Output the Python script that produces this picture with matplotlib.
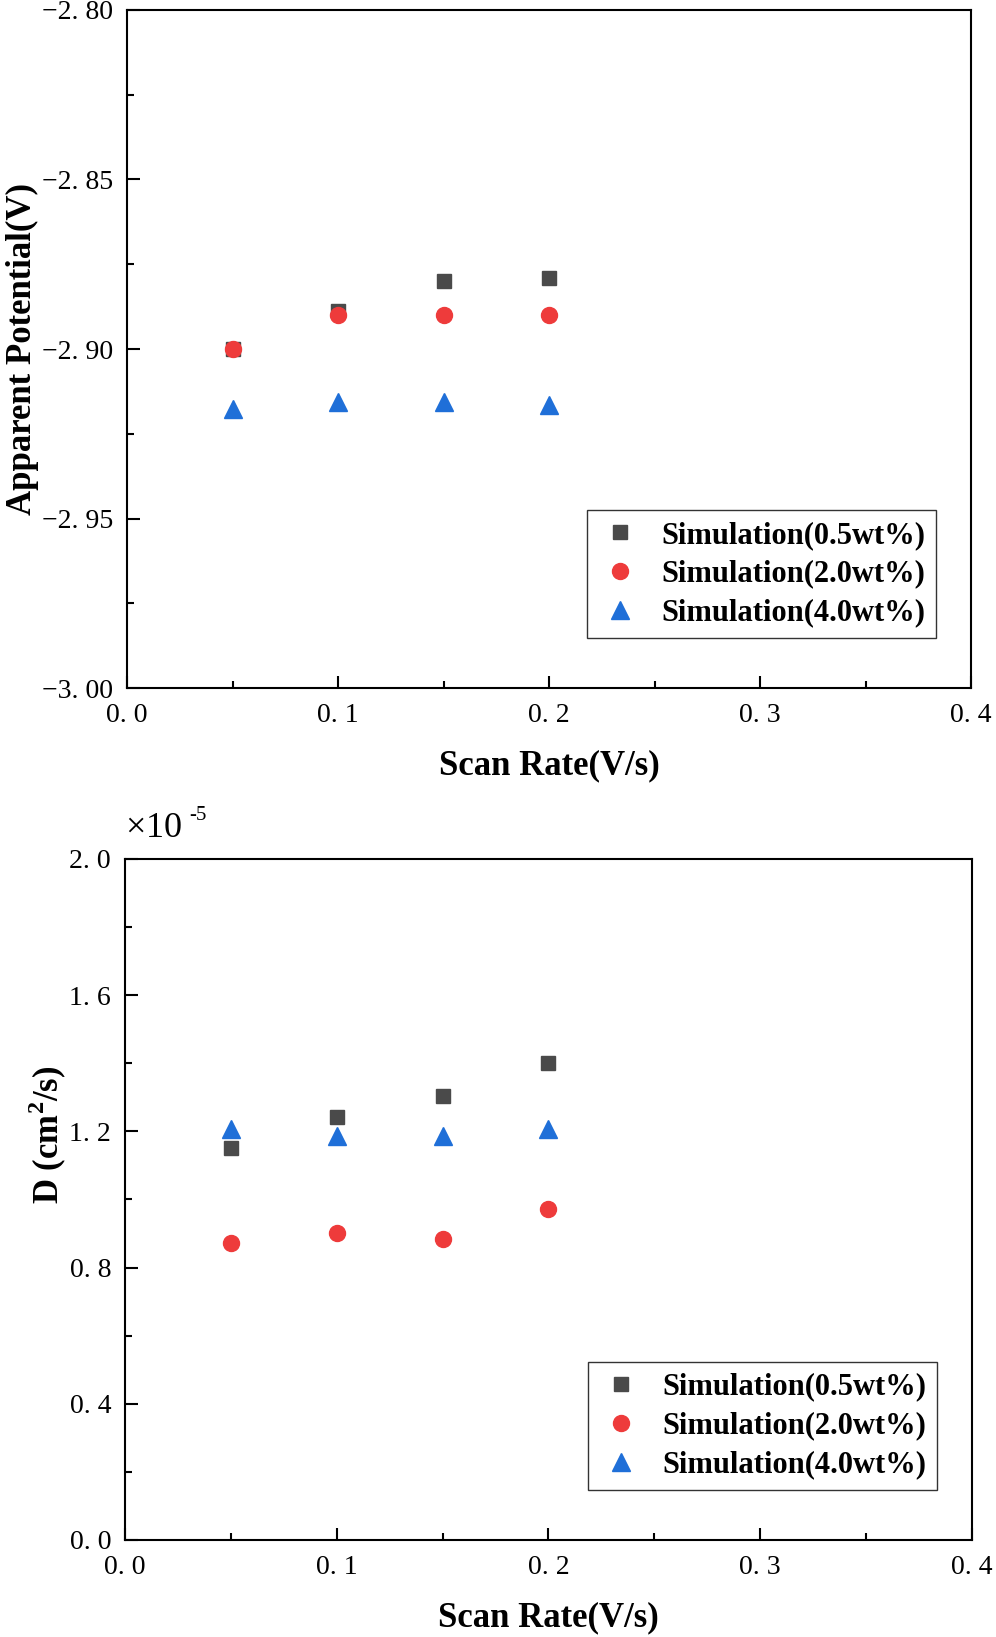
import matplotlib
matplotlib.use("Agg")
import matplotlib.pyplot as plt
from matplotlib.ticker import MultipleLocator, FuncFormatter

plt.rcParams['font.family'] = ['Liberation Serif', 'DejaVu Serif']
plt.rcParams['mathtext.fontset'] = 'custom'
plt.rcParams['mathtext.rm'] = 'Liberation Serif'
plt.rcParams['mathtext.bf'] = 'Liberation Serif:bold'

scan_rate = [0.05, 0.10, 0.15, 0.20]
labels = ['Simulation(0.5wt%)', 'Simulation(2.0wt%)', 'Simulation(4.0wt%)']

# apparent potential (V)
pot_05 = [-2.900, -2.8887, -2.8800, -2.8790]
pot_20 = [-2.900, -2.8900, -2.8900, -2.8900]
pot_40 = [-2.9177, -2.9157, -2.9157, -2.9165]

# diffusion coefficient, units of 1e-5 cm2/s
d_05 = [1.152, 1.241, 1.304, 1.402]
d_20 = [0.873, 0.902, 0.883, 0.971]
d_40 = [1.206, 1.186, 1.186, 1.206]

colors = ['#4a4a4a', '#ee3b3b', '#1f6fd8']
markers = ['s', 'o', '^']
msizes = [10, 11.5, 12.5]


def fmt(dec):
    def f(v, pos):
        s = f"{v:.{dec}f}".replace('.', '. ')
        return s.replace('-', '\u2212')
    return FuncFormatter(f)


def style(ax):
    for sp in ax.spines.values():
        sp.set_linewidth(1.5)
    ax.tick_params(which='both', direction='in', top=False, right=False,
                   labelsize=20, width=1.5)
    ax.tick_params(which='major', length=9)
    ax.tick_params(which='minor', length=5)
    ax.tick_params(axis='x', pad=11)
    ax.tick_params(axis='y', pad=10)
    ax.set_xlim(0, 0.4)
    ax.xaxis.set_major_locator(MultipleLocator(0.1))
    ax.xaxis.set_minor_locator(MultipleLocator(0.05))
    ax.xaxis.set_major_formatter(fmt(1))
    ax.set_xlabel('Scan Rate(V/s)', fontsize=25, fontweight='bold')


fig = plt.figure(figsize=(9.96, 16.37), dpi=100)
ax1 = fig.add_axes([0.1275, 0.5797, 0.8475, 0.4142])
ax2 = fig.add_axes([0.1255, 0.0593, 0.8504, 0.4160])

for ys, c, m, ms, lab in zip([pot_05, pot_20, pot_40], colors, markers, msizes, labels):
    ax1.plot(scan_rate, ys, linestyle='none', marker=m, color=c, ms=ms, label=lab)
for ys, c, m, ms, lab in zip([d_05, d_20, d_40], colors, markers, msizes, labels):
    ax2.plot(scan_rate, ys, linestyle='none', marker=m, color=c, ms=ms, label=lab)

style(ax1)
ax1.set_ylim(-3.0, -2.8)
ax1.yaxis.set_major_locator(MultipleLocator(0.05))
ax1.yaxis.set_minor_locator(MultipleLocator(0.025))
ax1.yaxis.set_major_formatter(fmt(2))
ax1.set_ylabel('Apparent Potential(V)', fontsize=25, fontweight='bold')
ax1.yaxis.set_label_coords(-0.104, 0.5)
ax1.xaxis.set_label_coords(0.5, -0.09)

style(ax2)
ax2.set_ylim(0, 2.0)
ax2.yaxis.set_major_locator(MultipleLocator(0.4))
ax2.yaxis.set_minor_locator(MultipleLocator(0.2))
ax2.yaxis.set_major_formatter(fmt(1))
ax2.set_ylabel(r'D (cm$^{\mathbf{2}}$/s)', fontsize=25, fontweight='bold')
ax2.yaxis.set_label_coords(-0.066, 0.595)
ax2.xaxis.set_label_coords(0.5, -0.09)
ax2.text(0.0, 1.02, r'$\times$10', transform=ax2.transAxes,
         fontsize=26, ha='left', va='bottom')
ax2.text(0.076, 1.05, '-5', transform=ax2.transAxes,
         fontsize=15, ha='left', va='bottom')

for ax in (ax1, ax2):
    leg = ax.legend(loc='lower right', bbox_to_anchor=(0.977, 0.051),
                    prop={'size': 22, 'weight': 'bold'}, fancybox=False,
                    edgecolor='#333333', framealpha=1, labelspacing=0.32,
                    handletextpad=0.6, borderpad=0.35, handlelength=1.5)
    leg.get_frame().set_linewidth(1.0)

fig.savefig('out.png', dpi=100)
